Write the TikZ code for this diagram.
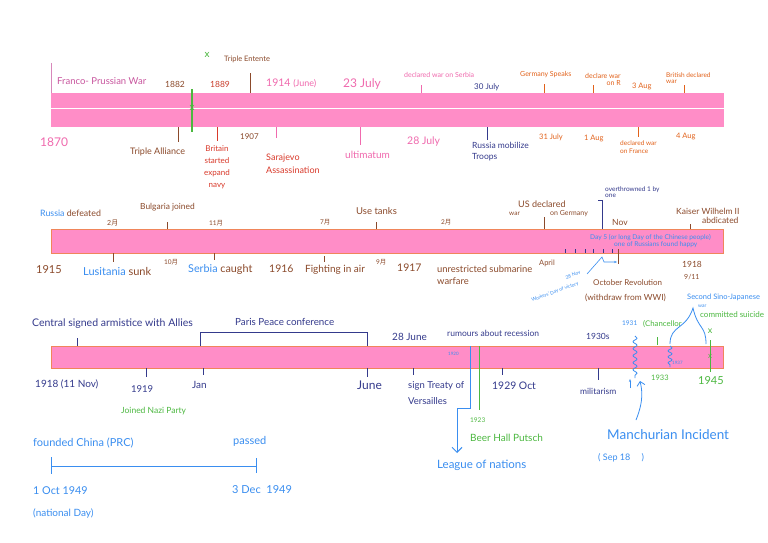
\documentclass[tikz,border=0pt]{standalone}
\usepackage{fontspec}
\setmainfont{Lato}
\newfontfamily\cjk{Noto Sans CJK SC}
\usetikzlibrary{arrows.meta,decorations.pathmorphing}
\definecolor{barpink}{HTML}{FF8DC7}
\definecolor{barline}{HTML}{F0855A}
\definecolor{brn}{HTML}{8B4A2B}
\definecolor{rd}{HTML}{D93A2B}
\definecolor{pk}{HTML}{F06AAE}
\definecolor{pkd}{HTML}{C8559E}
\definecolor{nv}{HTML}{343A8C}
\definecolor{org}{HTML}{E2621B}
\definecolor{bl}{HTML}{3A8EF0}
\definecolor{gr}{HTML}{4CB840}
\newcommand{\fs}[1]{\fontsize{#1}{#1}\selectfont}
\begin{document}
\begin{tikzpicture}[x=1pt,y=-1pt,
  txt/.style={anchor=west,inner sep=0pt,align=left,font=\fs{7}},
  tk/.style={line width=0.8pt},
  squig/.style={bl,line width=0.8pt,decorate,decoration={snake,amplitude=2pt,segment length=7pt}}]
\useasboundingbox (0,0) rectangle (768,543);
\fill[white] (0,0) rectangle (768,543);

% ================= TOP BAR =================
\fill[barpink] (51,93) rectangle (724,127);
\draw[white,line width=1.2pt] (51,108.5) -- (724,108.5);
\draw[pkd!70,tk] (51,63) -- (51,93);
\node[txt,pkd,font=\fs{9.5}] (fpw) at (57,81) {Franco- Prussian War};
\node[txt,pk,font=\fs{12}] (y1870) at (40,142) {1870};
\node[txt,brn,font=\fs{8.5}] (y1882) at (165,84) {1882};
\draw[brn,tk] (178,127) -- (178,142);
\node[txt,brn,font=\fs{9}] (ta) at (130,152) {Triple Alliance};
\draw[gr,line width=1.2pt] (192,89) -- (192,132);
\node[gr,font=\fs{10}] (gx1) at (192,108) {x};
\node[gr,font=\fs{10}] (gx2) at (207,55) {x};
\node[txt,brn,font=\fs{7.5}] (te) at (224,59) {Triple Entente};
\node[txt,rd!80!brn,font=\fs{8.5}] (y1889) at (210,84) {1889};
\draw[rd,tk] (217,127) -- (217,141);
\node[txt,rd,font=\fs{8},align=center,anchor=north] (brit) at (217,145) {Britain\\[4pt]started\\[4pt]expand\\[4pt]navy};
\draw[brn,tk] (250,73) -- (250,93);
\node[txt,brn,font=\fs{8}] (y1907) at (240,137) {1907};
\node[txt,pk,font=\fs{10.5}] (y1914) at (266,83) {1914 {\fs{9}(June)}};
\draw[pk,tk] (276,127) -- (276,138);
\node[txt,rd,font=\fs{9}] (sar) at (266,164) {Sarajevo\\[4pt]Assassination};
\node[txt,pk,font=\fs{12}] (j23) at (343,84) {23 July};
\draw[pk,tk] (360,127) -- (360,145);
\node[txt,pk,font=\fs{10}] (ult) at (345,155) {ultimatum};
\node[txt,pk,font=\fs{7}] (dws) at (404,75) {declared war on Serbia};
\draw[pk,tk] (421,85) -- (421,93);
\node[txt,pk,font=\fs{10.5}] (j28) at (407,142) {28 July};
\node[txt,nv,font=\fs{8}] (j30) at (474,87) {30 July};
\draw[nv,tk] (487,127) -- (487,140);
\node[txt,nv,font=\fs{8.5}] (rmt) at (472,151.5) {Russia mobilize\\[3pt]Troops};
\node[txt,org,font=\fs{7}] (gsp) at (520,75) {Germany Speaks};
\draw[org,tk] (544,84) -- (544,93);
\node[txt,org,font=\fs{7.5}] (j31) at (539,137) {31 July};
\node[txt,org,font=\fs{7},align=right] (dwr) at (585,79) {declare war\\on R};
\draw[org,tk] (593,85) -- (593,93);
\node[txt,org,font=\fs{7.5}] (a1) at (584,138) {1 Aug};
\node[txt,org,font=\fs{7.5}] (a3) at (632,86) {3 Aug};
\draw[org,tk] (638,127) -- (638,137);
\node[txt,org,font=\fs{6.5}] (dwf) at (620,147) {declared war\\[2pt]on France};
\node[txt,org,font=\fs{6.5}] (bdw) at (666,78) {British declared\\war};
\draw[org,tk] (684,85) -- (684,93);
\node[txt,org,font=\fs{7.5}] (a4) at (676,136) {4 Aug};

% ================= MIDDLE BAR =================
\draw[barline,fill=barpink,line width=0.6pt] (51,229) rectangle (723,253);
\node[txt,font=\fs{8.8}] (rdf) at (40,213) {\textcolor{bl}{Russia} \textcolor{brn}{defeated}};
\node[txt,brn,font=\fs{7}] (feb15) at (107,223) {2{\cjk 月}};
\node[txt,brn,font=\fs{8.4}] (bj) at (140,207) {Bulgaria joined};
\draw[brn,tk] (167,222) -- (167,229);
\node[txt,brn,font=\fs{6.5}] (nov15) at (209,223) {11{\cjk 月}};
\draw[brn,tk] (113,253) -- (113,262);
\node[txt,font=\fs{11}] (ls) at (83,271) {\textcolor{bl}{Lusitania} \textcolor{brn}{sunk}};
\node[txt,brn,font=\fs{6.5}] (oct15) at (164,262) {10{\cjk 月}};
\draw[brn,tk] (214,253) -- (214,260);
\node[txt,font=\fs{10.8}] (sc) at (188,270) {\textcolor{bl}{Serbia} \textcolor{brn}{caught}};
\node[txt,brn,font=\fs{11}] (y1915) at (36,270) {1915};
\node[txt,brn,font=\fs{10.5}] (y1916) at (269,269) {1916};
\node[txt,brn,font=\fs{6.5}] (jul16) at (320,222) {7{\cjk 月}};
\draw[brn,tk] (324,256) -- (324,262);
\node[txt,brn,font=\fs{10}] (fia) at (305,270) {Fighting in air};
\node[txt,brn,font=\fs{9.5}] (ut) at (356,211) {Use tanks};
\draw[brn,tk] (376,222) -- (376,229);
\node[txt,brn,font=\fs{6.5}] (sep16) at (376,262) {9{\cjk 月}};
\node[txt,brn,font=\fs{10.5}] (y1917) at (397,268) {1917};
\node[txt,brn,font=\fs{6.5}] (feb17) at (441,222) {2{\cjk 月}};
\node[txt,brn,font=\fs{9.4}] (usw) at (437,275) {unrestricted submarine\\[3pt]warfare};
\node[txt,brn,font=\fs{9}] (usd) at (518,204) {US declared};
\node[txt,brn,font=\fs{6.5}] (war17) at (509,214) {war};
\node[txt,brn,font=\fs{7}] (ong) at (550,214) {on Germany};
\draw[brn,tk] (544,217) -- (544,229);
\node[txt,brn,font=\fs{7.5}] (apr) at (539,263) {April};
\node[txt,nv,font=\fs{6.5}] (ov) at (605,192) {overthrowned 1 by\\one};
\draw[nv,tk] (598,200) -- (602,200) -- (602,229);
\node[txt,brn,font=\fs{8.5}] (nov17) at (612,222) {Nov};
\foreach \xx in {565,575,585,593,603,612} \draw[nv,line width=0.6pt] (\xx,249) -- (\xx,253);
\draw[brn,tk] (618,249) -- (618,264);
\node[txt,bl,font=\fs{6.6}] (day5) at (590,241) {Day 5 (or long Day of the Chinese people)\\\hspace*{24pt}one of Russians found happy};
\draw[bl,line width=0.6pt,-{Stealth[length=3pt]}] (587,274) -- (602,257) -- (604,262) -- (617,262);
\node[bl,font=\fs{4.8},rotate=20,inner sep=0pt] (nov28) at (573,275) {28 Nov};
\node[bl,font=\fs{4.8},rotate=20,inner sep=0pt] (wdv) at (555,292) {Workers' Day of victory};
\node[txt,brn,font=\fs{8}] (octr) at (593,283) {October Revolution};
\node[txt,brn,font=\fs{8.4}] (wfw) at (585,298) {(withdraw from WWI)};
\node[txt,brn,font=\fs{8.5}] (kw) at (676,216) {Kaiser Wilhelm II\\\hspace*{26pt}abdicated};
\draw[brn,tk] (690,224) -- (690,229);
\node[txt,brn,font=\fs{8.5}] (y1918) at (682,264) {1918};
\node[txt,brn,font=\fs{7}] (d911) at (684,277) {9/11};

% ================= BOTTOM BAR =================
\draw[barline,fill=barpink,line width=0.6pt] (51,346) rectangle (723,368);
\node[txt,nv,font=\fs{10.5}] (csa) at (32,324) {Central signed armistice with Allies};
\draw[nv,tk] (77,338) -- (77,346);
\node[txt,nv,font=\fs{10}] (y1918b) at (35,384) {1918 (11 Nov)};
\draw[nv,tk] (146,368) -- (146,377);
\node[txt,nv,font=\fs{9.5}] (y1919) at (131,389) {1919};
\node[txt,gr,font=\fs{8.5}] (jnp) at (121,411) {Joined Nazi Party};
\draw[nv,tk] (200,346) -- (200,332) -- (367,332) -- (367,346);
\node[txt,nv,font=\fs{9.8}] (ppc) at (235,322) {Paris Peace conference};
\draw[nv,tk] (203,368) -- (203,375);
\node[txt,nv,font=\fs{10}] (jan) at (192,385) {Jan};
\draw[nv,tk] (367,368) -- (367,377);
\node[txt,nv,font=\fs{12}] (jun) at (357,385) {June};
\node[txt,nv,font=\fs{10}] (j28b) at (392,337) {28 June};
\draw[nv,tk] (413,368) -- (413,375);
\node[txt,nv,font=\fs{9.5}] (stv) at (408,393) {sign Treaty of\\[6pt]Versailles};
\node[txt,nv,font=\fs{8.5}] (rar) at (447,333) {rumours about recession};
\node[txt,bl,font=\fs{4.5}] (y1920) at (448,354) {1920};
\draw[bl,line width=1pt,-{Straight Barb[length=5pt]}] (470,346) -- (470,408) -- (457,408) -- (457,453);
\node[txt,bl,font=\fs{11.5}] (lon) at (437,465) {League of nations};
\draw[gr,line width=0.8pt] (479,346) -- (479,410);
\node[txt,gr,font=\fs{6.5}] (y1923) at (470,420) {1923};
\node[txt,gr,font=\fs{10}] (bhp) at (470,438) {Beer Hall Putsch};
\draw[nv,tk] (502,368) -- (502,375);
\node[txt,nv,font=\fs{10.4}] (o29) at (492,386) {1929 Oct};
\node[txt,nv,font=\fs{8.5}] (y30s) at (586,336) {1930s};
\draw[nv,tk] (598,368) -- (598,380);
\node[txt,nv,font=\fs{8.5}] (mil) at (580,391) {militarism};
\draw[squig] (635,336) -- (635,378);
\node[txt,bl,font=\fs{6.5}] (y1931) at (622,323) {1931};
\node[txt,gr,font=\fs{7.8}] (chan) at (643,324) {(Chancellor};
\draw[gr,tk] (657,337) -- (657,345);
\node[txt,gr,font=\fs{7.5}] (y1933) at (651,378) {1933};
\draw[bl,line width=0.6pt,-{Stealth[length=3pt]}] (630,388) -- (630,379);
\draw[bl,line width=0.8pt,-{Straight Barb[length=4pt]}] (636,420) .. controls (644,400) and (642,390) .. (640,381);
\node[txt,bl,font=\fs{13.5}] (mi) at (607,435) {Manchurian Incident};
\node[txt,bl,font=\fs{9}] (sep18) at (598,458) {( Sep 18 \quad )};
\draw[squig,segment length=6pt] (670,346) -- (670,367);
\node[txt,bl,font=\fs{4.5}] (y1937) at (672,363) {1937};
\draw[bl,line width=0.8pt] (670,344) .. controls (670,325) and (686,330) .. (693,308) .. controls (698,330) and (706,325) .. (706,344);
\node[txt,bl,font=\fs{7.5}] (ssj) at (687,297) {Second Sino-Japanese};
\node[txt,bl,font=\fs{5}] (war2) at (698,306) {war};
\node[txt,gr,font=\fs{8}] (cs) at (700,315) {committed suicide};
\node[gr,font=\fs{9}] (gx3) at (710,331) {x};
\draw[gr,tk] (710,340) -- (710,372);
\node[gr,font=\fs{8}] (gx4) at (710,356) {x};
\node[txt,gr,font=\fs{11}] (y1945) at (698,381) {1945};

% ================= PRC LINE =================
\node[txt,bl,font=\fs{11}] (fc) at (33,443) {founded China (PRC)};
\node[txt,bl,font=\fs{11}] (pas) at (233,441) {passed};
\coordinate (p1) at (51,466);
\coordinate (p2) at (256,466);
\draw[bl,line width=0.8pt] (p1) -- (p2);
\draw[bl,line width=0.8pt] (51,457) -- (51,474);
\draw[bl,line width=0.8pt] (256,458) -- (256,473);
\node[txt,bl,font=\fs{10.8}] (d1) at (33,491) {1 Oct 1949};
\node[txt,bl,font=\fs{10}] (nd) at (33,513) {(national Day)};
\node[txt,bl,font=\fs{11}] (d2) at (232,490) {3 Dec \ 1949};
\end{tikzpicture}
\end{document}
